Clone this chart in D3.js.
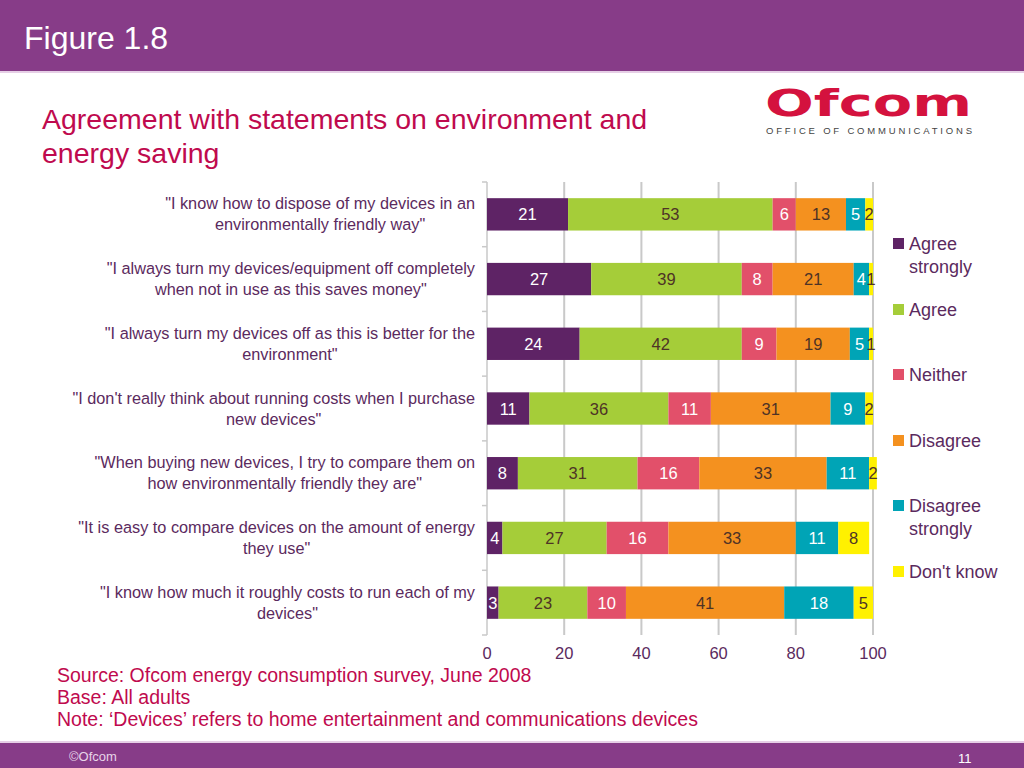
<!DOCTYPE html>
<html><head><meta charset="utf-8">
<script src="https://cdn.jsdelivr.net/npm/d3@7"></script>
<style>body{margin:0;background:#fff;}svg{display:block;font-family:"Liberation Sans",Arial,sans-serif;}</style>
</head><body>
<svg id="c" width="1024" height="768"></svg>
<script>
const categories = [
  ['"I know how to dispose of my devices in an', 'environmentally friendly way"'],
  ['"I always turn my devices/equipment off completely', 'when not in use as this saves money"'],
  ['"I always turn my devices off as this is better for the', 'environment"'],
  ['"I don\'t really think about running costs when I purchase', 'new devices"'],
  ['"When buying new devices, I try to compare them on', 'how environmentally friendly they are"'],
  ['"It is easy to compare devices on the amount of energy', 'they use"'],
  ['"I know how much it roughly costs to run each of my', 'devices"']
];
const seriesNames = ["Agree strongly", "Agree", "Neither", "Disagree", "Disagree strongly", "Don't know"];
const agreeStrongly    = [21, 27, 24, 11, 8, 4, 3];
const agree            = [53, 39, 42, 36, 31, 27, 23];
const neither          = [6, 8, 9, 11, 16, 16, 10];
const disagree         = [13, 21, 19, 31, 33, 33, 41];
const disagreeStrongly = [5, 4, 5, 9, 11, 11, 18];
const dontKnow         = [2, 1, 1, 2, 2, 8, 5];
const xTicks = [0, 20, 40, 60, 80, 100];

const colors = ["#5e2365", "#a5cd39", "#e2506a", "#f4911f", "#00a4b6", "#fff100"];
const labelColors = ["#ffffff", "#4e3326", "#ffffff", "#4e3326", "#ffffff", "#4e3326"];
const series = [agreeStrongly, agree, neither, disagree, disagreeStrongly, dontKnow];

const svg = d3.select("#c");
const band = "#873c88";

// header band
svg.append("rect").attr("x",0).attr("y",0).attr("width",1024).attr("height",71).attr("fill",band);
svg.append("rect").attr("x",0).attr("y",71).attr("width",1024).attr("height",2).attr("fill","#e6cfe6");
svg.append("text").attr("x",24).attr("y",49).attr("fill","#fff").attr("font-size",32).text("Figure 1.8");

// title
svg.append("text").attr("x",42).attr("y",129).attr("fill","#bf0a4e").attr("font-size",28.5).text("Agreement with statements on environment and");
svg.append("text").attr("x",42).attr("y",163).attr("fill","#bf0a4e").attr("font-size",28.5).text("energy saving");

// logo
svg.append("text").attr("x",765).attr("y",116).attr("fill","#d4123e").attr("font-size",38)
  .attr("font-weight","bold").attr("font-family","'DejaVu Sans',sans-serif")
  .attr("textLength",207).attr("lengthAdjust","spacingAndGlyphs").text("Ofcom");
svg.append("text").attr("x",766).attr("y",134).attr("fill","#444").attr("font-size",9.5)
  .attr("textLength",206).attr("lengthAdjust","spacing").text("OFFICE OF COMMUNICATIONS");

// scales
const x = d3.scaleLinear().domain([0,100]).range([487,873]);
const y = d3.scaleBand().domain(d3.range(categories.length)).range([182,635]).paddingInner(0.5).paddingOuter(0.25);

// gridlines
const g = svg.append("g");
g.selectAll("line.grid").data(xTicks.slice(1)).join("line")
  .attr("x1",d=>x(d)).attr("x2",d=>x(d)).attr("y1",182).attr("y2",635)
  .attr("stroke","#c9c9c9").attr("stroke-width",2);

// left axis line + ticks
g.append("line").attr("x1",x(0)).attr("x2",x(0)).attr("y1",182).attr("y2",635).attr("stroke","#c9c9c9").attr("stroke-width",1.5);
const bounds = d3.range(categories.length+1).map(i=>182 + i*y.step());
g.selectAll("line.tk").data(bounds).join("line")
  .attr("x1",x(0)-5).attr("x2",x(0)).attr("y1",d=>d).attr("y2",d=>d)
  .attr("stroke","#c9c9c9").attr("stroke-width",1.5);

// x tick labels
g.selectAll("text.xt").data(xTicks).join("text")
  .attr("x",d=>x(d)).attr("y",659).attr("text-anchor","middle")
  .attr("fill","#5b2a5e").attr("font-size",16.5).text(d=>d);

// bars
const stacked = categories.map((c,i)=>{
  let acc = 0;
  return series.map((s,k)=>{ const r = {i,k,v:s[i],x0:acc,x1:acc+s[i]}; acc += s[i]; return r; });
}).flat();

const bars = svg.append("g");
bars.selectAll("rect").data(stacked).join("rect")
  .attr("x",d=>x(d.x0)).attr("width",d=>x(d.x1)-x(d.x0))
  .attr("y",d=>y(d.i)).attr("height",y.bandwidth())
  .attr("fill",d=>colors[d.k]);
bars.selectAll("text").data(stacked).join("text")
  .attr("x",d=>(x(d.x0)+x(d.x1))/2).attr("y",d=>y(d.i)+y.bandwidth()/2+6)
  .attr("text-anchor","middle").attr("font-size",16.5)
  .attr("fill",d=>labelColors[d.k]).text(d=>d.v);

// category labels (centered block, right aligned)
const cl = svg.append("g");
categories.forEach((lines,i)=>{
  const cy = y(i)+y.bandwidth()/2;
  const ts = lines.map((t,j)=>cl.append("text").attr("y",cy - 5 + j*21).attr("font-size",16.3)
    .attr("fill","#5b2a5e").attr("text-anchor","middle").text(t));
  const maxW = d3.max(ts, t=>t.node().getComputedTextLength());
  ts.forEach(t=>t.attr("x",475 - maxW/2));
});

// legend
const legendItems = [
  {k:0, lines:["Agree","strongly"], y:250},
  {k:1, lines:["Agree"], y:316},
  {k:2, lines:["Neither"], y:381},
  {k:3, lines:["Disagree"], y:447},
  {k:4, lines:["Disagree","strongly"], y:512},
  {k:5, lines:["Don't know"], y:578}
];
const lg = svg.append("g");
legendItems.forEach(it=>{
  lg.append("rect").attr("x",893).attr("y",it.y-12).attr("width",11).attr("height",11).attr("fill",colors[it.k]);
  it.lines.forEach((t,j)=>lg.append("text").attr("x",909).attr("y",it.y+j*23)
    .attr("font-size",18).attr("fill","#5b2a5e").text(t));
});

// footer notes
const notes = ["Source: Ofcom energy consumption survey, June 2008", "Base: All adults", "Note: \u2018Devices\u2019 refers to home entertainment and communications devices"];
svg.selectAll("text.note").data(notes).join("text")
  .attr("x",57).attr("y",(d,i)=>682 + i*22).attr("font-size",19.5).attr("fill","#bf0a4e").text(d=>d);

// bottom band
svg.append("rect").attr("x",0).attr("y",741).attr("width",1024).attr("height",2).attr("fill","#e6cfe6");
svg.append("rect").attr("x",0).attr("y",743).attr("width",1024).attr("height",25).attr("fill",band);
svg.append("text").attr("x",69).attr("y",761).attr("fill","#e8d5e8").attr("font-size",13).text("\u00A9Ofcom");
svg.append("text").attr("x",958).attr("y",763).attr("fill","#fff").attr("font-size",13).text("11");
</script>
</body></html>
